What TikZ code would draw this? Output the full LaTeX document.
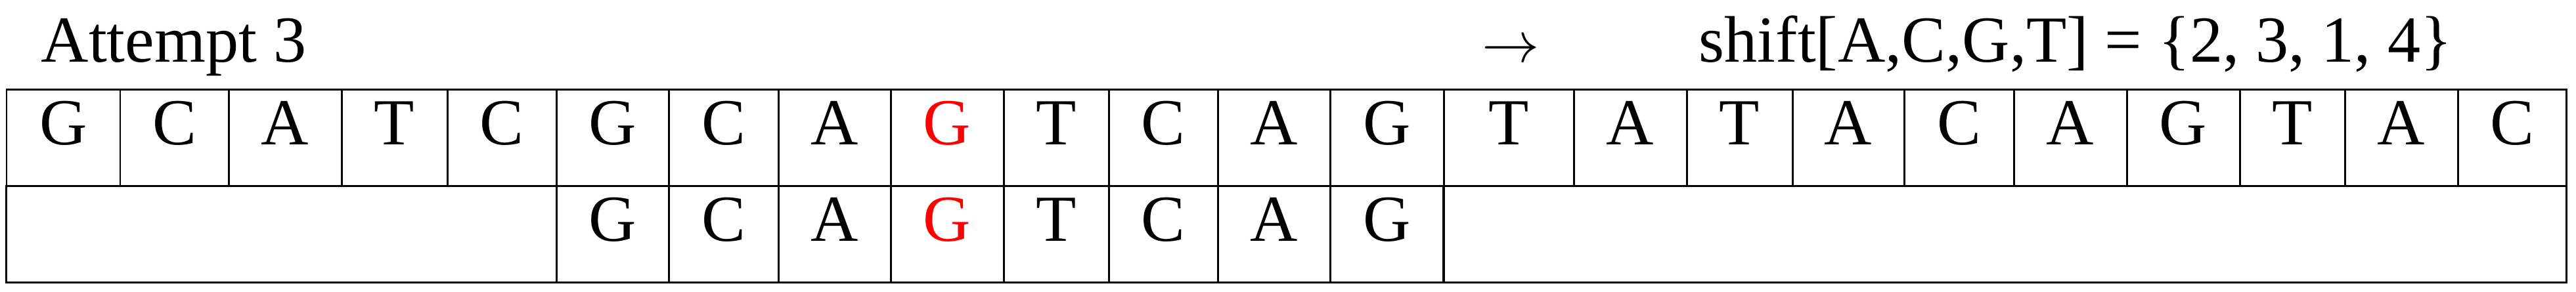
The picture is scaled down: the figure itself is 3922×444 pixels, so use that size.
\documentclass[tikz,border=0pt]{standalone}
\usepackage{fontspec}
\setmainfont{Liberation Serif}
\usetikzlibrary{positioning}

\begin{document}
\begin{tikzpicture}[
    x=0.01cm, y=-0.01cm,
    cell/.style={draw, line width=0.85pt, minimum height=1.47cm,
                 inner sep=0pt, text height=0.66em, text depth=0.09em,
                 font=\fontsize{28.5}{34}\selectfont},
    lbl/.style={anchor=base west, inner sep=0pt,
                font=\fontsize{28.5}{34}\selectfont}
  ]
    \useasboundingbox (0,0) rectangle (3922,444);

    % text row
    \foreach \ch/\a/\b [count=\i] in {G/10/183, C/183/348, A/348/520,
        T/520/681, C/681/847, G/847/1018, C/1018/1185, A/1185/1356,
        {\textcolor{red}{G}}/1356/1528, T/1528/1688, C/1688/1854,
        A/1854/2025, G/2025/2198, T/2198/2396, A/2396/2568, T/2568/2729,
        A/2729/2899, C/2899/3066, A/3066/3238, G/3238/3410, T/3410/3570,
        A/3570/3742, C/3742/3907}
      \node[cell, minimum width={(\b-\a)*0.01cm}] (t\i) at ({(\a+\b)/2},210) {\ch};

    % pattern row
    \node[cell, minimum width=8.37cm] (padL) at (428.5,357) {};
    \foreach \ch/\a/\b [count=\i from 6] in {G/847/1018, C/1018/1185,
        A/1185/1356, {\textcolor{red}{G}}/1356/1528, T/1528/1688,
        C/1688/1854, A/1854/2025, G/2025/2198}
      \node[cell, minimum width={(\b-\a)*0.01cm}] (p\i) at ({(\a+\b)/2},357) {\ch};
    \node[cell, minimum width=17.09cm] (padR) at (3052.5,357) {};

    \node[lbl] (title) at (62,94) {Attempt 3};
    \node[lbl, anchor=base] (arrow) at (2300,94) {$\rightarrow$};
    \node[lbl] (shift) at (2586,94) {shift[A,C,G,T] = \{2, 3, 1, 4\}};
\end{tikzpicture}
\end{document}
